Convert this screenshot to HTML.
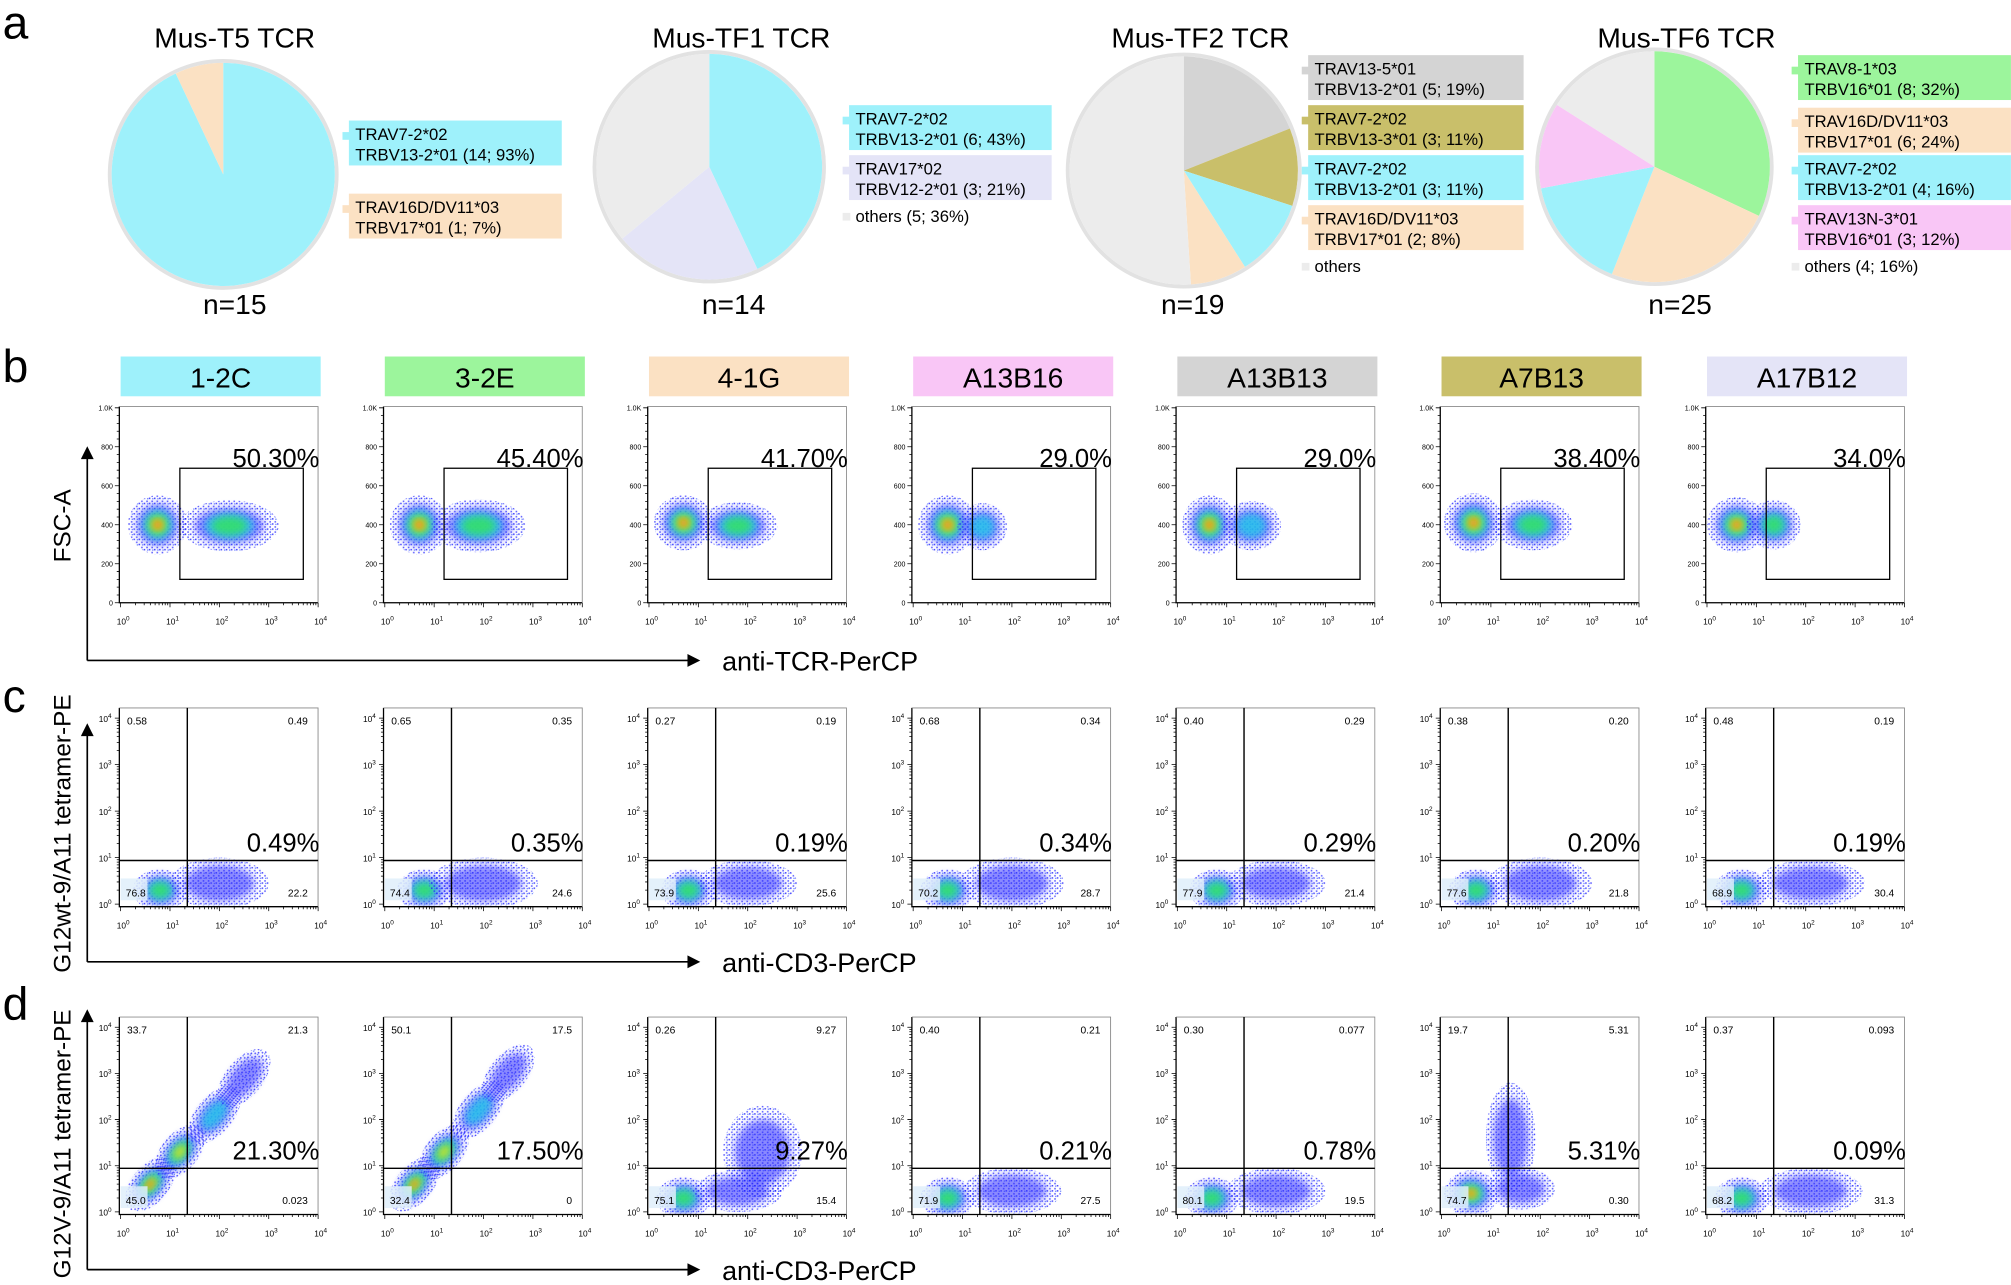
<!DOCTYPE html>
<html><head><meta charset="utf-8">
<style>
html,body{margin:0;padding:0;background:#fff;}
svg{display:block;font-family:"Liberation Sans",Arial,sans-serif;}
</style></head>
<body>
<svg id="fig" width="2011" height="1285" viewBox="0 0 1568 1002" xmlns="http://www.w3.org/2000/svg">
<defs>
<filter id="blur" x="-50%" y="-50%" width="200%" height="200%"><feGaussianBlur stdDeviation="3"/></filter>
<pattern id="speck" width="4" height="4" patternUnits="userSpaceOnUse">
<rect x="0" y="0" width="1.2" height="1.2" fill="#2020ff"/><rect x="2" y="2.3" width="1.2" height="1.2" fill="#3030ff"/><rect x="2.6" y="0.4" width="1" height="1" fill="#4060ff"/>
</pattern>
</defs>
</svg>
<script>
// ---------- data ----------
const pieTitles = ['Mus-T5 TCR','Mus-TF1 TCR','Mus-TF2 TCR','Mus-TF6 TCR'];
const pieN = ['n=15','n=14','n=19','n=25'];
const pie1Values = [93,7];
const pie1Colors = ['#9ef1fb','#fbe1c3'];
const pie2Values = [43,21,36];
const pie2Colors = ['#9ef1fb','#e4e4f7','#ececec'];
const pie3Values = [19,11,11,8,51];
const pie3Colors = ['#d4d4d4','#c9bf6a','#9ef1fb','#fbe1c3','#ececec'];
const pie4Values = [32,24,16,12,16];
const pie4Colors = ['#9cf59c','#fbe1c3','#9ef1fb','#f9c6f6','#ececec'];
const pie1Labels = [['TRAV7-2*02','TRBV13-2*01 (14; 93%)'],['TRAV16D/DV11*03','TRBV17*01 (1; 7%)']];
const pie2Labels = [['TRAV7-2*02','TRBV13-2*01 (6; 43%)'],['TRAV17*02','TRBV12-2*01 (3; 21%)'],['others (5; 36%)']];
const pie3Labels = [['TRAV13-5*01','TRBV13-2*01 (5; 19%)'],['TRAV7-2*02','TRBV13-3*01 (3; 11%)'],['TRAV7-2*02','TRBV13-2*01 (3; 11%)'],['TRAV16D/DV11*03','TRBV17*01 (2; 8%)'],['others']];
const pie4Labels = [['TRAV8-1*03','TRBV16*01 (8; 32%)'],['TRAV16D/DV11*03','TRBV17*01 (6; 24%)'],['TRAV7-2*02','TRBV13-2*01 (4; 16%)'],['TRAV13N-3*01','TRBV16*01 (3; 12%)'],['others (4; 16%)']];

const clones = ['1-2C','3-2E','4-1G','A13B16','A13B13','A7B13','A17B12'];
const cloneColors = ['#9ef1fb','#9cf59c','#fbe1c3','#f9c6f6','#d4d4d4','#c9bf6a','#e4e4f7'];
const bPct = ['50.30%','45.40%','41.70%','29.0%','29.0%','38.40%','34.0%'];
const cPct = ['0.49%','0.35%','0.19%','0.34%','0.29%','0.20%','0.19%'];
const dPct = ['21.30%','17.50%','9.27%','0.21%','0.78%','5.31%','0.09%'];
const cQuad = [['0.58','0.49','76.8','22.2'],['0.65','0.35','74.4','24.6'],['0.27','0.19','73.9','25.6'],['0.68','0.34','70.2','28.7'],['0.40','0.29','77.9','21.4'],['0.38','0.20','77.6','21.8'],['0.48','0.19','68.9','30.4']];
const dQuad = [['33.7','21.3','45.0','0.023'],['50.1','17.5','32.4','0'],['0.26','9.27','75.1','15.4'],['0.40','0.21','71.9','27.5'],['0.30','0.077','80.1','19.5'],['19.7','5.31','74.7','0.30'],['0.37','0.093','68.2','31.3']];
const bTicks = ['0','200','400','600','800','1.0K'];
const bTickVals = [0,200,400,600,800,1000];
// clusters: [xlog, y, rx(log), ry, level(1-6), angle]
const bClusters = [
 [[0.75,400,0.6,150,6,0],[2.2,395,1.0,130,3,0]],
 [[0.7,400,0.6,150,5,0],[1.9,395,0.95,135,3,0]],
 [[0.7,410,0.6,140,5,0],[1.8,395,0.8,120,3,0]],
 [[0.7,400,0.6,150,5,0],[1.4,390,0.5,120,2,0]],
 [[0.65,400,0.55,150,5,0],[1.5,395,0.6,125,2,0]],
 [[0.65,410,0.6,150,5,0],[1.85,400,0.8,130,3,0]],
 [[0.6,400,0.6,140,5,0],[1.35,400,0.55,125,3,0]]
];
const cClusters = [
 [[0.8,0.3,0.55,0.45,3,0],[2.0,0.45,1.0,0.55,1,0]],
 [[0.8,0.3,0.55,0.45,3,0],[2.0,0.45,1.1,0.55,1,0]],
 [[0.8,0.3,0.55,0.45,3,0],[2.0,0.45,1.0,0.5,1,0]],
 [[0.7,0.3,0.55,0.45,3,0],[2.0,0.45,1.05,0.55,1,0]],
 [[0.8,0.3,0.55,0.45,3,0],[2.0,0.45,1.0,0.5,1,0]],
 [[0.7,0.3,0.55,0.45,3,0],[2.0,0.45,1.05,0.55,1,0]],
 [[0.7,0.3,0.55,0.45,3,0],[2.1,0.45,1.1,0.5,1,0]]
];
const dClusters = [
 [[0.6,0.6,0.65,0.4,6,-50],[1.2,1.3,0.65,0.4,4,-50],[1.9,2.1,0.7,0.4,2,-50],[2.5,2.9,0.7,0.4,1,-50]],
 [[0.6,0.6,0.65,0.4,6,-50],[1.2,1.3,0.65,0.4,4,-50],[1.9,2.2,0.7,0.4,2,-50],[2.5,3.0,0.7,0.4,1,-50]],
 [[0.7,0.3,0.55,0.45,3,0],[2.3,1.3,0.8,1.0,1,0],[1.8,0.45,0.9,0.45,1,0]],
 [[0.7,0.3,0.55,0.45,3,0],[2.0,0.45,1.0,0.5,1,0]],
 [[0.7,0.3,0.55,0.45,3,0],[2.0,0.45,1.0,0.5,1,0]],
 [[0.6,0.4,0.55,0.5,5,0],[1.4,1.6,0.5,1.2,1,0],[1.6,0.5,0.7,0.45,1,0]],
 [[0.7,0.3,0.55,0.45,3,0],[2.1,0.45,1.05,0.5,1,0]]
];

// ---------- helpers ----------
const NS='http://www.w3.org/2000/svg';
const svg=document.getElementById('fig');
function mk(tag,attrs,parent){const e=document.createElementNS(NS,tag);for(const k in attrs)e.setAttribute(k,attrs[k]);(parent||svg).appendChild(e);return e;}
function txt(s,x,y,size,anchor,parent,extra){const t=mk('text',Object.assign({x:x,y:y,'font-size':size,'text-anchor':anchor||'start',fill:'#000'},extra||{}),parent);t.textContent=s;return t;}

['a','b','c','d'].forEach((L,i)=>{
  const t=txt(L,2,[30,298,555,795][i],36,'start');
  
  
});

// ---------- pies ----------
const pies=[
 {cx:174,cy:136,r:87,tx:183,nx:183,v:pie1Values,c:pie1Colors,l:pie1Labels,lx:272,ly:[94,151],lw:166,lh:35},
 {cx:553,cy:130,r:88,tx:578,nx:572,v:pie2Values,c:pie2Colors,l:pie2Labels,lx:662,ly:[82,121,160],lw:158,lh:35},
 {cx:923,cy:133,r:89,tx:936,nx:930,v:pie3Values,c:pie3Colors,l:pie3Labels,lx:1020,ly:[43,82,121,160,199],lw:168,lh:35},
 {cx:1290,cy:130,r:90,tx:1315,nx:1310,v:pie4Values,c:pie4Colors,l:pie4Labels,lx:1402,ly:[43,84,121,160,199],lw:166,lh:35}
];
pies.forEach((p,pi)=>{
  const g=mk('g',{});
  
  
  const sh=mk('circle',{cx:p.cx,cy:p.cy,r:p.r+1.5,fill:'none',stroke:'#e2e2e2','stroke-width':3},g);
  
  
  const tot=p.v.reduce((a,b)=>a+b,0);
  let a0=-Math.PI/2;
  p.v.forEach((v,i)=>{
    const a1=a0+v/tot*2*Math.PI;
    const x0=p.cx+p.r*Math.cos(a0),y0=p.cy+p.r*Math.sin(a0),x1=p.cx+p.r*Math.cos(a1),y1=p.cy+p.r*Math.sin(a1);
    const large=(a1-a0)>Math.PI?1:0;
    const s=mk('path',{d:`M${p.cx},${p.cy}L${x0},${y0}A${p.r},${p.r} 0 ${large} 1 ${x1},${y1}Z`,fill:p.c[i]},g);
    
    
    a0=a1;
  });
  p.l.forEach((lab,i)=>{
    const y=p.ly[i];
    const isOther=lab.length===1;
    const mkr=mk('rect',{x:p.lx-5,y:y+(isOther?6:9),width:6,height:6,fill:p.c[i]},g);
    
    
    if(!isOther){
      const b=mk('rect',{x:p.lx,y:y,width:p.lw,height:p.lh,fill:p.c[i]},g);
      
      
      const t1=txt(lab[0],p.lx+5,y+15,13,'start',g);
      
      
      const t2=txt(lab[1],p.lx+5,y+31,13,'start',g);
      
      
    } else {
      const t1=txt(lab[0],p.lx+5,y+13,13,'start',g);
      
      
    }
  });
  const tt=txt(pieTitles[pi],p.tx,37,22,'middle',g);
  
  
  const nn=txt(pieN[pi],p.nx,245,22,'middle',g);
  
  
});

// ---------- headers ----------
const X0=[93,299,505,711,917,1123,1330];
clones.forEach((c,i)=>{
  const r=mk('rect',{x:X0[i]+1,y:278,width:156,height:31,fill:cloneColors[i]});
  
  
  const t=txt(c,X0[i]+79,302,22,'middle');
  
  
});

// ---------- flow plots ----------
const W=155;
const levelCols=['url(#speck)','#2a2aff','#22c8e8','#35e35a','#f0e020','#ff5010'];
const levelOp=[0.8,0.55,0.8,0.8,0.85,0.85];
const levelScale=[1,0.7,0.5,0.36,0.24,0.13];
function drawPlot(i,top,bottom,yType,clusters,pct,quad,panel){
  const x0=X0[i],x1=x0+W;
  const g=mk('g',{});
  
  
  const sx=d=>x0+1+d*(W-1)/4;
  let sy;
  if(yType==='lin') sy=v=>bottom-v*(bottom-top-1)/1000;
  else sy=d=>bottom-2-d*(bottom-top-10)/4;
  const fr=mk('rect',{x:x0,y:top,width:W,height:bottom-top,fill:'none',stroke:'#888','stroke-width':0.6},g);
  
  
  const cg=mk('g',{},g);
  
  
  clusters.forEach(cl=>{
    const [cxl,cyv,rxl,ryv,lvl,ang]=cl;
    const cx=sx(cxl),cy=Math.min(sy(cyv),bottom-3);
    const rx=rxl*(W-1)/4;
    const ry=yType==='lin'?ryv*(bottom-top)/1000:ryv*(bottom-top-10)/4;
    for(let k=0;k<=lvl;k++){
      if(k>=levelCols.length)break;
      const e=mk('ellipse',{cx:cx,cy:cy,rx:rx*levelScale[k],ry:ry*levelScale[k],fill:levelCols[k],'fill-opacity':levelOp[k],transform:`rotate(${ang} ${cx} ${cy})`},cg);
      if(k>0)e.setAttribute('filter','url(#blur)');
      
      
    }
  });
  // mask cloud outside frame
  const mask=mk('path',{d:`M${x0-40},${top-3}H${x1+40}V${bottom+30}H${x0-40}Z M${x0},${top}V${bottom}H${x1}V${top}Z`,fill:'#fff','fill-rule':'evenodd'},g);
  
  
  const ax=mk('path',{d:`M${x0},${top}V${bottom}H${x1}`,stroke:'#000','stroke-width':1,fill:'none'},g);
  
  
  const fr2=mk('path',{d:`M${x0},${top}H${x1}V${bottom}`,stroke:'#888','stroke-width':0.6,fill:'none'},g);
  
  
  let tk='';
  for(let d=0;d<4;d++){for(let k=1;k<10;k++){const xx=sx(d+Math.log10(k));tk+=`M${xx},${bottom}v${k===1?3.5:2}`;}}
  tk+=`M${sx(4)},${bottom}v3.5`;
  if(yType==='lin'){for(let v=0;v<=1000;v+=40){const yy=sy(v);tk+=`M${x0},${yy}h${v%200===0?-3.5:-2}`;}}
  else {for(let d=0;d<4;d++){for(let k=1;k<10;k++){const yy=sy(d+Math.log10(k));tk+=`M${x0},${yy}h${k===1?-3.5:-2}`;}} tk+=`M${x0},${sy(4)}h-3.5`;}
  const tp=mk('path',{d:tk,stroke:'#000','stroke-width':0.6,fill:'none'},g);
  
  
  for(let d=0;d<=4;d++){
    const t=mk('text',{x:sx(d)+2,y:bottom+17,'font-size':6.5,'text-anchor':'middle'},g);
    t.textContent='10';
    const s=mk('tspan',{dy:-3,'font-size':5},t);s.textContent=String(d);
    
    
  }
  if(yType==='lin'){
    bTickVals.forEach((v,k)=>{const t=txt(bTicks[k],x0-5,sy(v)+2,5.5,'end',g);
      
      });
    const gate=mk('rect',{x:sx(1.2),y:sy(690),width:sx(3.7)-sx(1.2),height:sy(120)-sy(690),fill:'none',stroke:'#000','stroke-width':1},g);
    
    
    const pt=txt(pct,x1+1,364,20,'end',g);
    
    
  } else {
    for(let d=0;d<=4;d++){
      const t=mk('text',{x:x0-6,y:sy(d)+3,'font-size':6.5,'text-anchor':'end'},g);
      t.textContent='10';
      const s=mk('tspan',{dy:-3,'font-size':5},t);s.textContent=String(d);
      
      
    }
    const qx=x0+53,qy=(yType==='logc')?671:911;
    const bx=mk('rect',{x:x0+1,y:bottom-22,width:21,height:17,fill:'#dfeefa','fill-opacity':0.85},g);
    
    
    const ql=mk('path',{d:`M${qx},${top}V${bottom}M${x0},${qy}H${x1}`,stroke:'#000','stroke-width':1.1,fill:'none'},g);
    
    
    const pos=[[x0+6,top+13,'start'],[x1-8,top+13,'end'],[x0+5,bottom-8,'start'],[x1-8,bottom-8,'end']];
    quad.forEach((q,k)=>{const t=txt(q,pos[k][0],pos[k][1],8,pos[k][2],g);
      
      });
    const pt=txt(pct,x1+1,qy-7,20,'end',g);
    
    
  }
}
for(let i=0;i<7;i++){
  drawPlot(i,317,470,'lin',bClusters[i],bPct[i],null,'b');
  drawPlot(i,552,707,'logc',cClusters[i],cPct[i],cQuad[i],'c');
  drawPlot(i,793,947,'logd',dClusters[i],dPct[i],dQuad[i],'d');
}

// ---------- axis arrows ----------
function arrowAxis(yBase,yTop,label,ylabel,ylabelY,name){
  const g=mk('g',{});
  
  
  mk('path',{d:`M68,${yBase}V${yTop+8}M68,${yBase}H538`,stroke:'#000','stroke-width':1.3,fill:'none'},g);
  mk('path',{d:`M63,${yTop+10}L68,${yTop}L73,${yTop+10}Z`,fill:'#000'},g);
  mk('path',{d:`M536,${yBase-5}L546,${yBase}L536,${yBase+5}Z`,fill:'#000'},g);
  const xl=txt(label,563,yBase+8,21,'start',g);
  
  
  const yl=txt(ylabel,0,0,19,'middle',g,{transform:`translate(55,${ylabelY}) rotate(-90)`});
  
  
}
arrowAxis(515,348,'anti-TCR-PerCP','FSC-A',410,'axis-b');
arrowAxis(750,564,'anti-CD3-PerCP','G12wt-9/A11 tetramer-PE',650,'axis-c');
arrowAxis(990,787,'anti-CD3-PerCP','G12V-9/A11 tetramer-PE',892,'axis-d');
</script>
</body></html>
